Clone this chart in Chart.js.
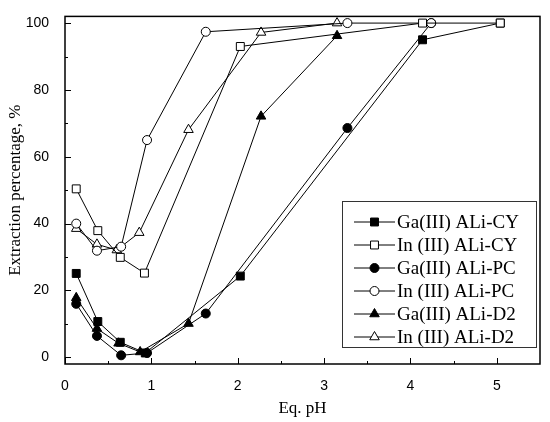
<!DOCTYPE html>
<html>
<head>
<meta charset="utf-8">
<script src="https://cdn.jsdelivr.net/npm/chart.js@4.4.1/dist/chart.umd.min.js"></script>
<style>
  html, body { margin: 0; padding: 0; background: #fff; }
  #wrap { width: 550px; height: 422px; }
</style>
</head>
<body>
<div id="wrap"><canvas id="chart-area"></canvas></div>
<script>
// values (Eq. pH vs extraction %)
var phGaCY = [0.13, 0.38, 0.64, 0.93, 2.03, 4.14, 5.04];
var gaCY   = [25.1, 10.7, 4.5, 1.3, 24.3, 95.0, 100];
var phInCY = [0.13, 0.38, 0.64, 0.92, 2.03, 4.14, 5.04];
var inCY   = [50.4, 37.9, 29.9, 25.2, 93.0, 100, 100];
var phPC   = [0.13, 0.37, 0.65, 0.95, 1.63, 3.27, 4.24];
var gaPC   = [16.0, 6.4, 0.6, 1.3, 13.1, 68.6, 100];
var inPC   = [40.0, 31.9, 33.1, 65.0, 97.4, 100, 100];
var phGaD2 = [0.13, 0.37, 0.62, 0.87, 1.43, 2.27, 3.15];
var gaD2   = [17.8, 8.6, 4.2, 1.6, 10.1, 72.1, 96.2];
var phInD2 = [0.13, 0.37, 0.60, 0.86, 1.43, 2.27, 3.15];
var inD2   = [38.5, 33.8, 32.1, 37.3, 68.1, 97.2, 100];

var seriesNames = ['Ga(III) ALi-CY', 'In (III) ALi-CY', 'Ga(III) ALi-PC',
                   'In (III) ALi-PC', 'Ga(III) ALi-D2', 'In (III) ALi-D2'];

var xTickValues = [0, 0.5, 1, 1.5, 2, 2.5, 3, 3.5, 4, 4.5, 5];
var yTickValues = [0, 10, 20, 30, 40, 50, 60, 70, 80, 90, 100];

function pts(xs, ys) {
  var out = [];
  for (var i = 0; i < xs.length; i++) out.push({x: xs[i], y: ys[i]});
  return out;
}

function series(name, xs, ys, style, filled, r) {
  return {
    label: name,
    data: pts(xs, ys),
    borderColor: '#000',
    borderWidth: 1,
    pointStyle: style,
    pointRadius: r,
    pointHoverRadius: r,
    pointBorderWidth: 1,
    pointBorderColor: '#000',
    pointBackgroundColor: filled ? '#000' : '#fff',
    showLine: true,
    tension: 0,
    order: filled ? 1 : 0   // open markers sit on top
  };
}

// inward ticks + box frame
var framePlugin = {
  id: 'frame',
  afterDatasetsDraw: function(chart) {
    var ctx = chart.ctx, a = chart.chartArea;
    var xs = chart.scales.x, ys = chart.scales.y;
    ctx.save();
    ctx.strokeStyle = '#000';
    ctx.lineWidth = 1;
    ctx.beginPath();
    xTickValues.forEach(function(v) {
      var px = Math.round(xs.getPixelForValue(v)) + 0.5;
      var len = (v % 1 === 0) ? 6 : 3;
      ctx.moveTo(px, a.bottom); ctx.lineTo(px, a.bottom - len);
    });
    yTickValues.forEach(function(v) {
      var py = Math.round(ys.getPixelForValue(v)) + 0.5;
      var len = (v % 20 === 0) ? 6 : 3;
      ctx.moveTo(a.left, py); ctx.lineTo(a.left + len, py);
    });
    ctx.stroke();
    ctx.lineWidth = 1.5;
    ctx.strokeRect(a.left, a.top, a.right - a.left, a.bottom - a.top);
    ctx.restore();
  }
};

// legend box inside the plot, lower right
var legendPlugin = {
  id: 'boxLegend',
  afterDraw: function(chart) {
    var ctx = chart.ctx;
    var bx = 342, by = 201, bw = 194, bh = 146;
    ctx.save();
    ctx.fillStyle = '#fff';
    ctx.fillRect(bx, by, bw, bh);
    ctx.strokeStyle = '#333';
    ctx.lineWidth = 1;
    ctx.strokeRect(bx + 0.5, by + 0.5, bw, bh);
    ctx.font = '19px "Liberation Serif", "Times New Roman", serif';
    ctx.textBaseline = 'middle';
    chart.data.datasets.forEach(function(ds, i) {
      var y = by + 21 + i * 23;
      ctx.strokeStyle = '#000';
      ctx.lineWidth = 1;
      ctx.beginPath();
      ctx.moveTo(354, y); ctx.lineTo(395, y);
      ctx.stroke();
      ctx.fillStyle = ds.pointBackgroundColor;
      ctx.strokeStyle = '#000';
      Chart.helpers.drawPoint(ctx, {
        pointStyle: ds.pointStyle, radius: ds.pointRadius,
        borderWidth: 1, rotation: 0
      }, 374.5, y);
      ctx.fillStyle = '#000';
      ctx.fillText(ds.label, 397, y + 1);
    });
    ctx.restore();
  }
};

Chart.defaults.color = '#000';

var config = {
  type: 'scatter',
  data: {
    datasets: [
      series(seriesNames[0], phGaCY, gaCY, 'rect', true, 5.6),
      series(seriesNames[1], phInCY, inCY, 'rect', false, 5.6),
      series(seriesNames[2], phPC, gaPC, 'circle', true, 4.5),
      series(seriesNames[3], phPC, inPC, 'circle', false, 4.5),
      series(seriesNames[4], phGaD2, gaD2, 'triangle', true, 5.5),
      series(seriesNames[5], phInD2, inD2, 'triangle', false, 5.5)
    ]
  },
  options: {
    responsive: true,
    maintainAspectRatio: false,
    animation: false,
    layout: { padding: { top: 12, right: 10, left: 0, bottom: 0 } },
    plugins: {
      legend: { display: false },
      tooltip: { enabled: false }
    },
    scales: {
      x: {
        type: 'linear',
        min: 0, max: 5.5,
        grid: { display: false },
        border: { display: false },
        afterBuildTicks: function(s) { s.ticks = xTickValues.map(function(v) { return {value: v}; }); },
        afterFit: function(s) { s.height = 58; },
        ticks: {
          padding: 6,
          maxRotation: 0,
          autoSkip: false,
          font: { family: '"Liberation Sans", Arial, sans-serif', size: 14 },
          callback: function(v) { return v % 1 === 0 ? String(v) : ''; }
        },
        title: {
          display: true,
          text: 'Eq. pH',
          font: { family: '"Liberation Serif", "Times New Roman", serif', size: 17 },
          padding: { top: 0, bottom: 3 }
        }
      },
      y: {
        type: 'linear',
        min: -2, max: 102,
        grid: { display: false },
        border: { display: false },
        afterBuildTicks: function(s) { s.ticks = yTickValues.map(function(v) { return {value: v}; }); },
        afterFit: function(s) { s.width = 65; },
        ticks: {
          padding: 8,
          autoSkip: false,
          font: { family: '"Liberation Sans", Arial, sans-serif', size: 14 },
          callback: function(v) { return v % 20 === 0 ? String(v) : ''; }
        },
        title: {
          display: true,
          text: 'Extraction percentage, %',
          font: { family: '"Liberation Serif", "Times New Roman", serif', size: 17 },
          padding: { top: 5, bottom: 0 }
        }
      }
    }
  },
  plugins: [framePlugin, legendPlugin]
};

var ctx = document.getElementById('chart-area').getContext('2d');
window.myChart = new Chart(ctx, config);
</script>
</body>
</html>
